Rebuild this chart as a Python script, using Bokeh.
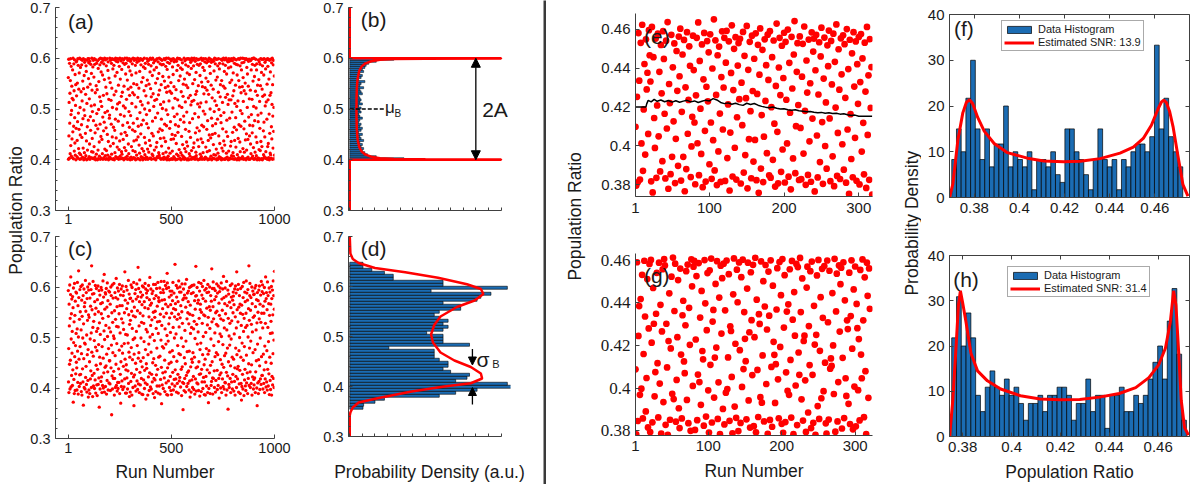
import numpy as np
from bokeh.plotting import figure
from bokeh.layouts import row, column
from bokeh.models import (Range1d, FixedTicker, Label, Arrow, NormalHead,
                          Legend, LegendItem, CustomJSTickFormatter, LinearAxis)
from bokeh.embed import file_html
from bokeh.resources import INLINE

# ---------------- data ----------------
# (a) population ratio per run, in 1/1000 units
A_RATIO_MILLI = [
562,401,598,447,513,403,590,472,531,412,556,599,428,489,584,407,497,545,441,521,
404,577,455,600,518,402,466,589,536,417,597,483,433,568,409,507,548,400,462,593,
526,595,406,438,551,475,599,403,586,492,422,539,460,571,413,600,401,503,449,582,
410,598,534,402,469,587,444,516,596,405,555,481,423,599,540,400,498,566,414,592,
487,403,597,452,529,408,585,574,437,400,511,596,465,419,543,599,402,478,560,591,
599,406,520,431,594,401,549,485,458,588,404,506,570,416,600,537,442,495,403,583,
415,596,477,402,563,426,599,508,588,405,453,532,400,597,468,546,411,590,491,401,
538,400,595,461,419,580,402,499,554,598,435,407,524,587,470,401,600,515,446,573,
403,592,505,440,599,412,567,484,401,596,527,457,589,404,474,558,600,421,493,408,
597,401,543,463,585,418,402,530,599,450,496,409,576,593,436,400,519,561,404,482,
488,600,405,552,427,596,402,517,470,590,411,541,599,445,503,401,579,598,432,464,
402,586,528,400,597,458,414,565,480,600,406,535,443,594,500,403,572,425,599,510,
593,404,476,547,401,598,420,584,513,437,600,407,559,489,402,595,451,525,416,578,
411,599,533,403,468,591,440,506,597,400,545,486,424,588,600,454,502,404,569,418,
590,402,519,448,600,407,557,473,401,596,539,431,583,412,495,599,464,527,403,575,
400,594,487,543,405,598,426,567,511,401,589,459,532,418,600,472,404,550,437,596,
528,403,599,456,416,586,400,504,571,597,439,409,548,592,481,402,600,523,445,466,
402,597,541,429,595,413,574,493,400,599,515,451,587,406,469,553,598,422,508,404,
596,400,562,478,583,417,403,536,600,444,500,410,580,590,433,401,526,546,405,489,
471,599,404,557,421,594,401,512,463,588,415,549,597,438,497,403,573,600,428,540,
403,585,524,401,598,452,411,566,476,600,408,530,447,591,505,402,577,419,596,517,
595,402,483,551,400,597,425,582,519,434,599,406,560,492,404,593,455,528,414,570,
409,600,537,404,461,589,442,509,598,401,548,480,427,587,596,458,501,403,564,412,
588,401,514,443,599,405,555,470,402,597,542,436,584,415,498,600,467,533,400,578,
404,592,489,545,407,600,423,563,516,400,590,462,535,413,598,475,401,552,440,595,
531,402,598,450,417,583,401,502,568,599,441,406,544,593,485,403,597,521,448,469,
400,596,538,432,594,411,576,490,401,600,518,454,586,408,466,556,599,420,506,402,
599,403,565,479,581,414,400,534,597,446,503,409,578,591,430,402,525,549,406,486,
474,600,401,559,422,595,403,514,460,587,416,547,598,435,494,400,571,599,427,542,
402,584,522,400,599,456,412,568,473,597,407,527,444,592,508,401,580,418,600,515,
596,404,481,550,402,598,424,585,517,433,600,405,558,491,401,594,453,529,415,572,
408,599,535,402,463,588,439,510,597,400,546,484,426,586,598,457,504,401,566,411,
589,403,512,441,600,406,553,468,401,596,544,434,582,414,496,599,465,530,402,576,
401,593,490,542,405,599,425,561,514,403,591,460,537,416,597,477,400,554,438,594,
529,401,600,449,418,584,402,500,570,598,443,407,547,592,482,400,596,522,450,467,
403,597,539,430,594,410,575,495,402,600,516,452,589,409,471,557,598,421,507,400,
598,402,563,480,585,413,401,533,599,447,499,406,579,590,432,403,524,548,404,487,
473,598,400,556,423,596,402,513,461,589,417,545,600,437,493,401,574,597,429,541,
401,586,523,403,600,455,413,569,478,596,405,529,446,593,509,400,581,417,599,518,
594,401,482,552,403,597,427,583,518,436,599,408,557,494,402,595,454,526,414,571,
407,600,536,401,464,590,438,511,598,402,547,483,425,588,597,459,505,400,567,410,
587,402,516,442,599,404,556,469,400,598,543,435,585,416,497,600,466,532,403,577,
402,591,491,544,406,600,422,562,515,401,592,461,536,415,599,476,402,551,439,597,
530,400,599,451,419,582,403,503,569,597,440,405,545,594,484,401,598,520,447,468,
401,595,537,431,596,412,577,489,403,599,519,453,588,407,467,555,600,424,505,401,
600,402,564,477,586,415,402,535,598,445,502,408,577,589,434,400,527,547,403,488,
475,597,403,558,420,593,400,515,462,588,418,546,599,436,492,402,572,598,426,539,
400,585,525,402,598,457,410,567,474,599,406,528,445,592,506,403,579,416,597,514,
597,403,480,549,401,599,426,584,518,432,598,404,559,490,400,596,452,527,413,573,
410,598,532,403,465,591,441,509,600,401,548,486,423,587,596,456,503,402,565,409]

# (c) population ratio per run, in 1/1000 units
C_RATIO_MILLI = [
593,412,478,391,566,523,447,604,398,538,455,585,620,402,497,547,425,576,469,512,
405,581,436,559,372,598,490,417,531,389,607,462,544,395,572,484,428,590,508,451,
588,440,396,517,609,473,411,563,388,501,632,579,457,403,536,426,595,482,551,409,
427,601,515,393,468,574,386,542,604,438,499,412,583,366,527,458,596,401,561,489,
569,398,487,613,421,552,443,589,407,505,392,577,466,534,600,415,476,382,545,594,
396,540,606,452,389,578,497,418,562,434,595,509,401,642,471,555,425,586,383,520,
611,463,404,532,587,429,494,399,571,546,416,603,481,390,558,445,597,512,406,474,
385,575,437,518,602,407,551,486,420,593,362,529,461,584,398,506,448,567,413,599,
547,422,594,391,482,569,405,538,612,459,400,580,430,513,625,392,496,556,441,589,
403,586,524,444,597,388,467,560,415,608,502,432,573,396,542,478,592,410,519,454,
590,454,408,566,395,511,600,440,583,485,347,549,424,604,398,530,470,578,419,503,
433,607,498,386,553,419,589,464,401,536,579,447,617,405,522,488,561,394,598,411,
576,399,521,592,438,411,547,475,605,389,563,509,427,584,370,452,596,403,537,483,
414,563,602,469,397,529,583,443,516,591,402,488,549,418,630,457,574,390,506,436,
601,446,390,557,420,594,505,398,568,434,489,613,409,545,471,586,383,526,461,577,
392,534,578,413,604,480,429,552,386,599,518,456,572,401,496,543,422,609,365,467,
560,426,499,587,404,541,449,595,394,576,512,437,606,414,484,553,397,581,639,459,
408,597,470,523,391,571,614,431,548,406,590,453,499,580,419,530,388,565,442,602,
584,387,543,460,600,416,528,492,571,399,435,559,607,410,476,596,378,516,448,588,
439,579,407,511,593,386,466,557,422,603,487,541,395,575,430,619,501,564,402,524,
596,471,398,568,427,535,587,412,506,450,592,389,550,605,458,419,577,494,381,540,
416,552,605,445,393,583,518,426,597,479,404,562,531,437,609,390,508,579,461,573,
571,404,532,598,463,388,546,417,589,495,611,441,369,524,574,406,482,557,430,595,
399,589,479,541,611,420,575,455,393,517,432,603,566,487,410,548,597,387,504,627,
608,440,386,561,493,414,599,527,448,580,401,539,471,592,423,510,565,395,451,584,
387,548,592,408,474,573,431,609,520,396,557,462,588,417,499,541,404,645,436,567,
555,418,507,603,392,580,453,536,409,598,484,427,571,390,546,612,468,521,414,590,
421,600,539,466,402,563,590,437,499,385,551,606,442,528,411,575,357,482,596,409,
578,395,460,584,419,514,606,448,392,560,493,578,425,615,403,537,472,588,431,549,
409,571,592,434,527,396,473,599,414,546,382,564,508,442,601,392,587,520,457,416,
603,451,401,544,470,589,423,517,397,604,532,461,573,388,498,556,418,582,641,440,
394,583,526,410,599,487,442,568,408,511,574,395,609,452,538,427,592,384,476,555,
566,428,489,607,393,550,437,584,412,528,601,466,399,577,502,421,545,613,446,387,
412,594,543,457,386,572,510,423,597,478,404,558,589,436,525,391,605,467,540,371,
590,399,474,561,430,600,518,389,554,445,583,497,405,572,413,636,531,452,597,420,
388,561,610,419,537,484,597,434,401,575,509,462,593,392,549,415,581,470,526,606,
552,435,397,588,466,523,405,602,492,419,568,380,544,591,426,507,598,456,400,537,
430,608,502,391,576,447,554,418,596,486,403,534,621,441,579,398,519,464,567,411,
598,410,547,469,386,582,431,611,515,396,563,479,424,594,358,538,452,586,407,503,
401,570,485,528,419,603,444,391,559,497,580,412,533,606,461,398,574,427,549,590,
582,457,394,565,507,413,596,440,386,541,602,479,423,588,519,401,630,466,555,438,
418,595,531,443,605,392,560,474,408,583,500,435,566,389,548,597,461,409,524,376,
564,403,489,601,427,546,398,579,455,512,609,385,538,482,416,590,437,571,404,520,
395,548,612,465,410,588,524,430,574,389,595,501,419,557,448,642,405,534,479,583,
607,432,401,554,493,579,409,526,446,600,386,567,511,422,592,470,540,398,585,417,
406,586,543,420,598,476,391,561,432,603,515,454,575,400,529,365,589,487,410,550,
573,389,456,594,413,537,602,444,397,566,499,418,584,530,407,611,462,548,425,591,
425,604,519,398,562,467,587,409,548,436,599,391,483,572,418,528,620,451,402,577,
589,412,474,555,396,610,437,520,583,404,492,567,428,598,387,544,461,590,415,508,
397,566,532,449,601,386,577,423,509,594,406,545,468,612,419,583,495,401,556,631]

# (e) population ratio per run, in 1/10000 units
E_RATIO_1E4 = [
4098,3795,4252,3812,4580,4335,3826,4530,4012,4623,3871,4187,4421,3955,4548,4290,4376,4061,4595,4466,
4331,3817,4612,3760,4456,4143,3989,4552,3835,4208,4577,4049,4381,3868,4519,4270,3921,4590,4447,4165,
3832,4541,4089,4637,3779,4318,4220,3854,4571,3943,4404,4126,4527,3808,4036,4488,4283,3897,4562,4358,
4603,3821,4175,4470,3943,4545,3766,4301,3880,4585,4062,4236,4512,4412,3839,3997,4149,4567,4390,4120,
3802,4260,4556,4013,4635,3849,4437,4191,3958,4522,3787,4342,4581,4077,3816,4304,4539,4229,4481,3905,
4574,4120,3830,4398,4029,4651,3873,4543,4262,3798,4466,3971,4511,4166,3814,4354,4589,4084,4300,4556,
3819,4428,4592,3937,4213,4538,3770,4068,4375,4620,3842,4287,4499,3990,4559,3826,4147,4413,4529,4240,
4551,3806,4325,4106,4586,3862,4463,3952,4245,4617,3781,4391,4034,4535,4178,3833,4567,4282,3919,4448,
4030,4579,3823,4267,4520,3758,4366,4604,3883,4158,4494,3813,4047,4548,4231,4415,3962,4572,4339,3848,
4590,3836,4199,4456,3928,4542,4114,3790,4308,4629,4072,3807,4403,4556,4261,3866,4515,3981,4349,4582,
3811,4535,4237,4012,4598,3841,4427,4170,3776,4561,4295,3935,4470,4642,3859,4101,4381,4528,4210,3824,
4563,4092,3828,4356,4525,3960,4614,4180,3799,4439,4274,3850,4547,4023,4322,3815,4584,4140,4485,4552,
3765,4389,4571,4053,3837,4264,4533,3916,4460,4608,4122,3804,4346,4557,3999,4223,3882,4517,4410,4593,
4141,3818,4540,4316,3946,4577,3792,4432,4197,4625,3845,4066,4497,4289,3829,4553,4368,4008,4569,3877,
4523,4247,3810,4601,4084,4395,3752,4546,4163,3932,4476,3838,4585,4305,4041,4537,3820,4420,4216,4560,
3801,4328,4575,3970,4450,4118,3853,4531,4279,3783,4612,4056,4363,3825,4549,4195,4405,3749]

# (e) running estimate (black line): run number and value
E_MEAN_RUN = [1, 15, 16, 18, 22, 26, 30, 35, 40, 45, 50, 55, 60, 65, 70, 75, 80, 85, 90, 95,
              100, 105, 110, 115, 120, 125, 130, 135, 140, 145, 150, 155, 160, 165, 170, 175,
              180, 185, 190, 195, 200, 205, 210, 215, 220, 225, 230, 235, 240, 245, 250, 255,
              260, 265, 270, 275, 280, 285, 290, 295, 300, 318]
E_MEAN_VAL = [0.4200, 0.4200, 0.4216, 0.4234, 0.4226, 0.4239, 0.4229,
              0.4236, 0.4227, 0.4233, 0.4225, 0.4232, 0.4224, 0.4230, 0.4234, 0.4226, 0.4231,
              0.4223, 0.4229, 0.4235, 0.4231, 0.4243, 0.4236, 0.4223, 0.4217, 0.4221, 0.4214,
              0.4219, 0.4212, 0.4208, 0.4219, 0.4213, 0.4218, 0.4209, 0.4203, 0.4199, 0.4196,
              0.4200, 0.4193, 0.4189, 0.4191, 0.4186, 0.4183, 0.4186, 0.4180, 0.4178, 0.4175,
              0.4177, 0.4173, 0.4170, 0.4172, 0.4168, 0.4170, 0.4166, 0.4168, 0.4163, 0.4165,
              0.4160, 0.4156, 0.4158, 0.4152, 0.4152]

# (g) population ratio per run, in 1/10000 units
G_RATIO_1E4 = [
4088,3782,4591,3845,4245,4385,3968,4418,3997,4532,3857,4160,4598,4336,3890,4047,4512,3815,4280,4583,
3793,4602,4213,3839,4470,4302,3961,4075,4349,4541,4117,3862,4589,4021,4391,3786,4266,4558,3934,4606,
4576,3827,4302,4097,3780,4221,4445,3851,4186,4523,3973,4613,3948,4362,4584,3842,4038,4239,4507,3905,
3812,4561,4157,3857,4342,4410,4125,4070,4295,4549,3944,4580,3835,4377,4203,3799,4605,4478,4010,4570,
4597,3803,4228,4526,3849,4063,4587,4028,4331,3921,4456,4174,4135,3823,4601,4398,3866,4272,4540,3989,
3791,4553,4109,4608,3838,4312,4367,3955,4143,4489,4190,4596,3855,4027,4425,3784,4575,4256,4516,3902,
4584,3829,4365,3978,4599,3995,4144,4535,3846,4290,4268,4052,3787,4440,4609,3913,4208,3860,4556,4403,
3798,4590,4178,3836,4521,4005,4603,4089,4357,4231,4126,3853,4467,4589,3942,4262,3814,4544,4319,4061,
4579,3821,4239,4612,3792,4415,4085,3864,4347,4301,3957,4595,3931,4153,4502,3843,4383,4578,4019,4275,
3785,4547,4340,3850,4600,4099,3818,4481,4217,4156,3930,4112,4369,4563,4041,3858,4592,4193,4436,3832,
4606,3790,4284,4530,3840,4074,4359,3987,4393,3968,4558,4132,3861,4597,4321,3783,4451,4246,4012,4583,
3826,4568,4167,4062,4611,4357,3947,4515,3847,4221,4246,4036,3794,4472,4570,3885,4291,4108,4549,3812,
4594,4062,3837,4386,4204,3780,4250,4529,3915,4602,3855,4175,4427,3952,4560,4330,3985,4573,4119,3834,
3786,4599,4309,3852,4551,4091,4139,4104,4446,4200,3972,4607,3795,4360,4537,3843,4028,4576,4265,4488,
4565,3810,4142,4591,3859,4412,4046,3963,4318,4277,3926,4542,3831,4338,4600,4185,3806,4463,4007,4571,
3820,4395,4281,3990,4230,3848,4555,4157,4046,4604,4318,3863,4520,4079,3784,4589,4433,3954,4562,4372]

# (b) histogram: bins start / width (population ratio), bar lengths (a.u.)
B_EDGE0, B_W = 0.400, 0.004
B_LEN = [4.3, 2.1, 1.4, 1.2, 1.0, 1.1, 0.9, 1.0, 0.8, 1.1,
         0.9, 0.8, 1.0, 0.7, 0.9, 1.0, 0.8, 0.9, 0.7, 0.8,
         1.0, 0.8, 0.7, 0.9, 0.8, 0.9, 0.7, 1.0, 0.8, 0.9,
         0.8, 0.7, 1.0, 0.9, 0.8, 1.1, 0.8, 0.9, 1.2, 0.7,
         0.9, 1.0, 0.8, 1.1, 1.0, 1.2, 1.3, 1.5, 2.1, 3.5]
B_CURVE_DENS = [0, 0, 12, 12, 6, 3.5, 2.4, 1.7, 1.25, 0.95, 0.75, 0.62, 0.56, 0.54, 0.53,
                0.54, 0.56, 0.62, 0.75, 0.95, 1.25, 1.7, 2.4, 3.5, 6, 12, 12, 0, 0]
B_CURVE_RATIO = [0.3, 0.4, 0.4, 0.4004, 0.4008, 0.4015, 0.403, 0.406, 0.41, 0.416, 0.425, 0.44,
                 0.46, 0.48, 0.5, 0.52, 0.54, 0.56, 0.575, 0.584, 0.59, 0.594, 0.597, 0.5985,
                 0.5992, 0.5996, 0.6, 0.6, 0.7]
MU_B, A_LOW, A_HIGH = 0.5, 0.4, 0.6

# (d) histogram
D_EDGE0, D_W = 0.3545, 0.006
D_LEN = [1.05, 1.1, 2.0, 2.75, 7.1, 8.4, 10.1, 13.5, 12.5, 8.4,
         9.3, 9.5, 8.0, 7.4, 7.8, 7.8, 7.1, 6.7, 6.7, 6.7,
         3.1, 9.5, 7.4, 7.4, 7.4, 6.1, 7.4, 7.8, 7.4, 7.8,
         7.1, 6.7, 7.1, 8.8, 8.8, 7.4, 10.1, 10.4, 11.2, 6.45,
         12.5, 7.4, 7.4, 3.45, 3.45, 2.75, 1.75, 1.05, 1.05]
D_CURVE_DENS = [0, 0, 0.05, 0.24, 0.7, 2.3, 4.9, 7.5, 9.6, 10.5, 10.4, 9.6, 8.3, 7.2, 6.6,
                6.45, 6.7, 7.2, 8.5, 9.9, 10.6, 10.4, 9.3, 7.0, 4.4, 2.0, 0.7, 0.24, 0.05, 0]
D_CURVE_RATIO = [0.3, 0.342, 0.348, 0.358, 0.368, 0.377, 0.390, 0.400, 0.4065, 0.416, 0.426,
                 0.439, 0.452, 0.468, 0.488, 0.504, 0.523, 0.540, 0.559, 0.572, 0.585, 0.595,
                 0.6045, 0.6175, 0.6286, 0.637, 0.647, 0.655, 0.666, 0.7]
SIGMA_UP = (0.475, 0.443)
SIGMA_DN = (0.364, 0.398)

# (f) histogram + fit
F_EDGE0, F_W = 0.3700, 0.00209
F_DENS = [8.3, 15, 10, 21.7, 30, 15, 8.3, 15, 6.7, 11.7, 11.7, 20, 6.7, 10, 8.3, 6.7, 10,
          1.7, 8.3, 8.3, 6.7, 10, 5, 3.3, 15, 15, 10, 8.3, 5, 1.7, 8.3, 15, 8.3, 6.7, 8.3,
          1.7, 8.3, 6.7, 10, 11.7, 11.7, 10, 13.3, 33.3, 15, 21.7, 13.3, 10, 6.7]
F_CURVE_X = [0.3690, 0.3705, 0.3727, 0.3749, 0.3765, 0.3779, 0.3793, 0.3815, 0.3844, 0.3888,
             0.3947, 0.4035, 0.4108, 0.4196, 0.4270, 0.4358, 0.4446, 0.4505, 0.4549, 0.4585,
             0.4615, 0.4630, 0.4640, 0.4651, 0.4666, 0.4681, 0.4703, 0.4725, 0.4747]
F_CURVE_Y = [0.0, 3.0, 12.5, 18.5, 20.8, 21.4, 20.5, 17.5, 14.5, 11.8, 9.8, 8.6, 8.0, 7.8,
             7.9, 8.5, 9.7, 11.0, 12.9, 15.8, 19.4, 20.9, 21.3, 20.8, 18.8, 15.5, 9.0, 2.8, 0.3]
SNR_F = 13.9

# (h) histogram + fit
H_EDGE0, H_W = 0.3755, 0.00196
H_DENS = [21.8, 30.9, 20.0, 27.3, 21.8, 9.1, 5.5, 10.9, 14.5, 10.9, 9.1, 12.7, 9.1, 10.9,
          7.3, 3.6, 7.3, 7.3, 9.1, 5.5, 9.1, 9.1, 10.9, 10.9, 9.1, 3.6, 7.3, 7.3, 12.7, 5.5,
          9.1, 9.1, 1.8, 9.1, 9.1, 10.9, 5.5, 5.5, 9.1, 7.3, 9.1, 12.7, 16.4, 20.0, 12.7,
          25.5, 32.7, 18.2, 3.6]
H_CURVE_X = [0.37461, 0.37595, 0.37730, 0.37825, 0.37906, 0.38000, 0.38135, 0.38337, 0.38607,
             0.39011, 0.39551, 0.40360, 0.41169, 0.41978, 0.42787, 0.43596, 0.44405, 0.45080,
             0.45619, 0.46024, 0.46294, 0.46496, 0.46631, 0.46725, 0.46833, 0.46941, 0.47076,
             0.47238]
H_CURVE_Y = [0.0, 8.0, 20.0, 29.0, 32.2, 29.5, 25.3, 18.4, 14.5, 12.3, 10.5, 9.0, 8.3, 8.1,
             8.2, 8.7, 9.5, 10.8, 13.0, 15.9, 19.5, 25.3, 32.2, 29.0, 19.0, 8.0, 2.0, 0.3]
SNR_H = 31.4

# tick values
TICKS_AC_X = [1, 500, 1000]
TICKS_AC_Y = [0.3, 0.4, 0.5, 0.6, 0.7]
TICKS_EG_X = [1, 100, 200, 300]
TICKS_RATIO = [0.38, 0.40, 0.42, 0.44, 0.46]
TICKS_DENS = [0, 10, 20, 30, 40]

# ---------------- styling ----------------
SANS = "Liberation Sans"
SERIF = "Liberation Serif"
RED = "#ff0000"
BLUE = "#1b6cb3"
AXC = "#404040"
TXT = "#1a1a1a"
FMT = CustomJSTickFormatter(code="return String(parseFloat(tick.toFixed(4)));")
MINOR_AC = [round(0.3 + 0.02 * i, 2) for i in range(21)]
AU_TICKS = list(range(13))


def base(w, h, xr, yr, bl, br, bt, bb, box=False, tsize="14.5px"):
    p = figure(width=w, height=h, x_range=Range1d(*xr), y_range=Range1d(*yr),
               output_backend="svg", toolbar_location=None,
               min_border_left=bl, min_border_right=br,
               min_border_top=bt, min_border_bottom=bb)
    p.xgrid.visible = False
    p.ygrid.visible = False
    p.outline_line_color = AXC if box else None
    p.background_fill_color = "white"
    p.border_fill_color = "white"
    for ax in p.axis:
        ax.axis_line_color = AXC
        ax.major_tick_line_color = AXC
        ax.minor_tick_line_color = AXC
        ax.major_tick_in = 4
        ax.major_tick_out = 0
        ax.minor_tick_in = 2
        ax.minor_tick_out = 0
        ax.major_label_text_font = SANS
        ax.major_label_text_font_size = tsize
        ax.major_label_text_color = TXT
        ax.axis_label_text_font = SANS
        ax.axis_label_text_font_size = "17.5px"
        ax.axis_label_text_font_style = "normal"
        ax.axis_label_text_color = TXT
        ax.formatter = FMT
    return p


def mirror_ticks(p, xticks, yticks):
    # box-on style: unlabelled tick marks on the top and right edges
    for ticks, place in ((xticks, "above"), (yticks, "right")):
        ax = LinearAxis(ticker=FixedTicker(ticks=[], minor_ticks=ticks))
        ax.axis_line_color = None
        ax.major_tick_line_color = None
        ax.minor_tick_line_color = AXC
        ax.minor_tick_in = 4
        ax.minor_tick_out = 0
        ax.major_label_standoff = 0
        p.add_layout(ax, place)


def tag(p, x, y, t, size="21px", baseline="top", align="left"):
    p.add_layout(Label(x=x, y=y, text=t, text_font=SANS, text_font_size=size,
                       text_baseline=baseline, text_align=align, text_color=TXT))


def labfig(w, text, fx, fy):
    p = figure(width=w, height=484, x_range=Range1d(0, 1), y_range=Range1d(0, 1),
               x_axis_location=None, y_axis_location=None, toolbar_location=None,
               output_backend="svg", min_border=0)
    p.outline_line_color = None
    p.grid.visible = False
    p.add_layout(Label(x=fx, y=fy, text=text, angle=np.pi / 2, text_align="center",
                       text_baseline="middle", text_font=SANS, text_font_size="17.5px",
                       text_color=TXT))
    return p


A_Y = np.array(A_RATIO_MILLI) / 1000.0
C_Y = np.array(C_RATIO_MILLI) / 1000.0
E_Y = np.array(E_RATIO_1E4) / 10000.0
G_Y = np.array(G_RATIO_1E4) / 10000.0

# ---------------- (a) ----------------
pa = base(273, 229, (-61, 1000), (0.3, 0.7), 30, 24, 7, 19)
pa.xaxis.ticker = FixedTicker(ticks=TICKS_AC_X)
pa.yaxis.ticker = FixedTicker(ticks=TICKS_AC_Y, minor_ticks=MINOR_AC)
pa.xaxis.major_label_standoff = 3
pa.scatter(np.arange(1, len(A_Y) + 1), A_Y, size=3.3, fill_color=RED, line_color=None)
tag(pa, 0, 0.6945, "(a)")

# ---------------- (c) ----------------
pc = base(273, 255, (-61, 1000), (0.3, 0.7), 30, 24, 7, 46)
pc.xaxis.ticker = FixedTicker(ticks=TICKS_AC_X)
pc.yaxis.ticker = FixedTicker(ticks=TICKS_AC_Y, minor_ticks=MINOR_AC)
pc.xaxis.major_label_standoff = 4
pc.xaxis.axis_label = "Run Number"
pc.xaxis.axis_label_standoff = 6
pc.scatter(np.arange(1, len(C_Y) + 1), C_Y, size=3.3, fill_color=RED, line_color=None)
tag(pc, 0, 0.699, "(c)")

# ---------------- (b) ----------------
pb = base(245, 229, (-0.1, 12.75), (0.3, 0.7), 50, 33, 7, 19)
pb.xaxis.ticker = FixedTicker(ticks=[], minor_ticks=AU_TICKS)
pb.xaxis.minor_tick_in = 3
pb.xaxis.bounds = (-0.1, 12)
pb.yaxis.ticker = FixedTicker(ticks=TICKS_AC_Y, minor_ticks=MINOR_AC)
b_lo = B_EDGE0 + B_W * np.arange(len(B_LEN))
pb.quad(left=0, right=B_LEN, bottom=b_lo, top=b_lo + B_W, fill_color=BLUE,
        line_color="black", line_width=0.5)
pb.line(B_CURVE_DENS, B_CURVE_RATIO, line_color=RED, line_width=2.5)
pb.line([0, 2.75], [MU_B, MU_B], line_color="black", line_width=1.3, line_dash="4 2")
tag(pb, 2.8, MU_B + 0.002, "μ", size="17px", baseline="middle")
tag(pb, 3.55, MU_B - 0.008, "B", size="10px", baseline="middle")
pb.add_layout(Arrow(start=NormalHead(size=9, fill_color="black", line_color="black"),
                    end=NormalHead(size=9, fill_color="black", line_color="black"),
                    x_start=10, y_start=A_LOW, x_end=10, y_end=A_HIGH,
                    line_color="black", line_width=1.3))
tag(pb, 10.5, MU_B, "2A", size="21px", baseline="middle")
tag(pb, 0.875, 0.699, "(b)")

# ---------------- (d) ----------------
pd_ = base(245, 255, (-0.1, 12.75), (0.3, 0.7), 50, 33, 7, 46)
pd_.xaxis.ticker = FixedTicker(ticks=[], minor_ticks=AU_TICKS)
pd_.xaxis.minor_tick_in = 3
pd_.xaxis.bounds = (-0.1, 12)
pd_.xaxis.major_label_standoff = 0
pd_.xaxis.axis_label = "Probability Density (a.u.)"
pd_.xaxis.axis_label_standoff = 25
pd_.yaxis.ticker = FixedTicker(ticks=TICKS_AC_Y, minor_ticks=MINOR_AC)
d_lo = D_EDGE0 + D_W * np.arange(len(D_LEN))
pd_.quad(left=0, right=D_LEN, bottom=d_lo, top=d_lo + D_W, fill_color=BLUE,
         line_color="black", line_width=0.6)
pd_.line(D_CURVE_DENS, D_CURVE_RATIO, line_color=RED, line_width=2.5)
pd_.add_layout(Arrow(end=NormalHead(size=8, fill_color="black", line_color="black"),
                     x_start=9.73, y_start=SIGMA_UP[0], x_end=9.73, y_end=SIGMA_UP[1],
                     line_color="black", line_width=1.3))
pd_.add_layout(Arrow(end=NormalHead(size=8, fill_color="black", line_color="black"),
                     x_start=9.73, y_start=SIGMA_DN[0], x_end=9.73, y_end=SIGMA_DN[1],
                     line_color="black", line_width=1.3))
tag(pd_, 10.05, 0.455, "σ", size="21px", baseline="middle")
tag(pd_, 11.3, 0.446, "B", size="11px", baseline="middle")
tag(pd_, 0.875, 0.699, "(d)")

# ---------------- separator ----------------
sep = figure(width=3, height=484, x_range=Range1d(0, 1), y_range=Range1d(0, 1),
             x_axis_location=None, y_axis_location=None, toolbar_location=None,
             output_backend="svg", min_border=0)
sep.outline_line_color = None
sep.grid.visible = False
sep.background_fill_color = "#3a3a3a"
sep.border_fill_color = "#3a3a3a"

lab0 = labfig(25, "Population Ratio", 0.6, 0.566)
lab2 = labfig(51, "Population Ratio", 0.55, 0.554)
lab3 = labfig(31, "Probability Density", 0.68, 0.540)

# ---------------- (e) ----------------
pe = base(293, 229, (1, 318.4), (0.3739, 0.4681), 35, 18, 13, 33, tsize="15px")
pe.xaxis.ticker = FixedTicker(ticks=TICKS_EG_X)
pe.yaxis.ticker = FixedTicker(ticks=TICKS_RATIO)
pe.xaxis.major_label_standoff = 6
pe.scatter(np.arange(1, len(E_Y) + 1), E_Y, size=6.7, fill_color=RED, line_color=None)
pe.line(E_MEAN_RUN, E_MEAN_VAL, line_color="black", line_width=1.5)
tag(pe, 12.5, 0.4621, "(e)")

# ---------------- (g) ----------------
pg = base(293, 255, (1, 323.6), (0.3777, 0.4632), 35, 14, 24, 49, tsize="15px")
pg.xaxis.ticker = FixedTicker(ticks=TICKS_EG_X)
pg.yaxis.ticker = FixedTicker(ticks=TICKS_RATIO)
pg.yaxis.major_label_text_font = SERIF
pg.yaxis.major_label_text_font_size = "17px"
pg.xaxis.major_label_standoff = 5
pg.xaxis.axis_label = "Run Number"
pg.xaxis.axis_label_standoff = 7
pg.scatter(np.arange(1, len(G_Y) + 1), G_Y, size=6.7, fill_color=RED, line_color=None)
tag(pg, 12.5, 0.4582, "(g)")


# ---------------- (f) / (h) ----------------
def hist_panel(h, xr, bt, bb, edge0, w, dens, cx, cy, snr, loc, letter, lx, ly, xlabel=None):
    p = base(271, h, xr, (0, 40), 28, 3, bt, bb, box=True, tsize="15px")
    p.xaxis.ticker = FixedTicker(ticks=TICKS_RATIO)
    p.yaxis.ticker = FixedTicker(ticks=TICKS_DENS)
    p.xaxis.major_label_standoff = 5
    if xlabel:
        p.xaxis.axis_label = xlabel
        p.xaxis.axis_label_standoff = 7
    mirror_ticks(p, TICKS_RATIO, TICKS_DENS)
    lo = edge0 + w * np.arange(len(dens))
    rb = p.quad(left=lo, right=lo + w, bottom=0, top=dens, fill_color=BLUE,
                line_color="black", line_width=0.7)
    rl = p.line(cx, cy, line_color=RED, line_width=3)
    leg = Legend(items=[LegendItem(label="Data Histogram", renderers=[rb]),
                        LegendItem(label="Estimated SNR: %.1f" % snr, renderers=[rl])],
                 location=loc, label_text_font=SANS, label_text_font_size="11px",
                 label_text_color=TXT, glyph_width=30, glyph_height=9, label_height=11,
                 label_standoff=4, padding=2, spacing=1, margin=0,
                 border_line_color="#555555", border_line_width=1,
                 background_fill_color="white", background_fill_alpha=1)
    p.add_layout(leg)
    tag(p, lx, ly, letter)
    return p


pf = hist_panel(229, (0.369, 0.4754), 14, 32, F_EDGE0, F_W, F_DENS, F_CURVE_X, F_CURVE_Y,
                SNR_F, (52, 146), "(f)", 0.371, 39.4)
ph = hist_panel(255, (0.3746, 0.4728), 26, 48, H_EDGE0, H_W, H_DENS, H_CURVE_X, H_CURVE_Y,
                SNR_H, (58, 139), "(h)", 0.3761, 37.2, xlabel="Population Ratio")

layout = row(lab0, column(pa, pc), column(pb, pd_), sep, lab2, column(pe, pg), lab3,
             column(pf, ph))

open("out.html", "w").write(file_html(layout, INLINE, title="Population ratio"))
